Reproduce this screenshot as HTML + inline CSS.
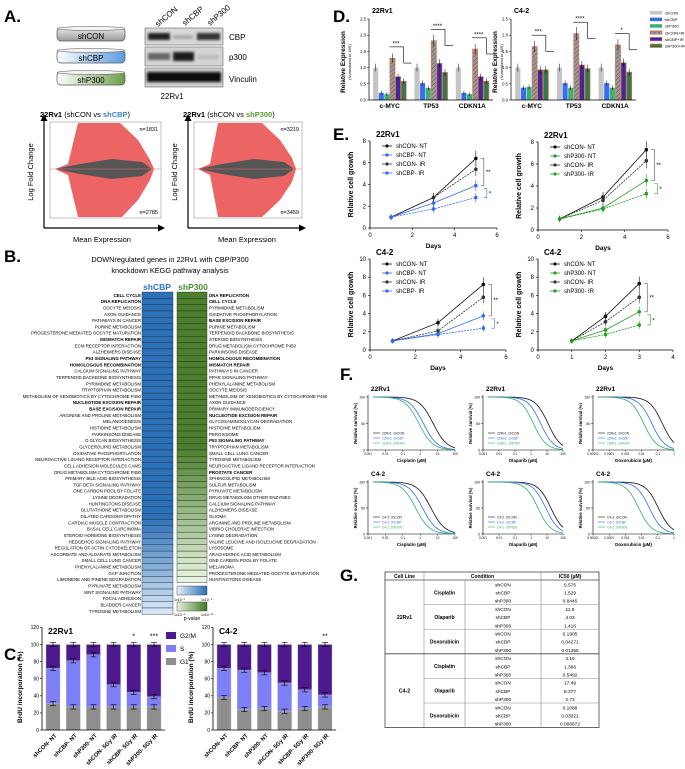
<!DOCTYPE html>
<html><head><meta charset="utf-8"><style>
html,body{margin:0;padding:0;background:#fff;}
svg{display:block;font-family:"Liberation Sans",Arial,sans-serif;}
</style></head><body>
<svg id="fig" width="685" height="769" viewBox="0 0 685 769" xmlns="http://www.w3.org/2000/svg">
<defs>
<linearGradient id="gCon" x1="0" y1="0" x2="0" y2="1"><stop offset="0" stop-color="#e8e8e8"/><stop offset="1" stop-color="#9a9a9a"/></linearGradient>
<linearGradient id="gCbp" x1="0" y1="0" x2="1" y2="0"><stop offset="0" stop-color="#fff"/><stop offset="1" stop-color="#5b9be0"/></linearGradient>
<linearGradient id="gP3" x1="0" y1="0" x2="1" y2="0"><stop offset="0" stop-color="#fff"/><stop offset="1" stop-color="#6ba04a"/></linearGradient>
<linearGradient id="legB" x1="0" y1="0" x2="1" y2="0"><stop offset="0" stop-color="#e3eef9"/><stop offset="1" stop-color="#2c6fb8"/></linearGradient>
<linearGradient id="legG" x1="0" y1="0" x2="1" y2="0"><stop offset="0" stop-color="#e8f1e0"/><stop offset="1" stop-color="#3f7a26"/></linearGradient>
<pattern id="hatch" width="3" height="3" patternUnits="userSpaceOnUse" patternTransform="rotate(45)"><rect width="3" height="3" fill="#9a9a9a"/><line x1="0" y1="0" x2="0" y2="3" stroke="#555" stroke-width="1"/></pattern>
<filter id="blur"><feGaussianBlur stdDeviation="1.4"/></filter>
</defs>

<text x="4" y="22" font-size="17" font-weight="bold">A.</text>
<text x="4" y="262" font-size="17" font-weight="bold">B.</text>
<text x="4" y="660" font-size="17" font-weight="bold">C.</text>
<text x="333" y="22" font-size="17" font-weight="bold">D.</text>
<text x="333" y="140" font-size="17" font-weight="bold">E.</text>
<text x="340" y="380" font-size="17" font-weight="bold">F.</text>
<text x="340" y="581" font-size="17" font-weight="bold">G.</text>

<g>
<rect x="57" y="28" width="68" height="13" rx="4" fill="url(#gCon)" stroke="#555" stroke-width="0.7"/>
<ellipse cx="91" cy="28.5" rx="34" ry="2" fill="#f2f2f2" stroke="#555" stroke-width="0.5"/>
<text x="91" y="39" font-size="8" text-anchor="middle">shCON</text></g>
<g>
<rect x="57" y="50" width="68" height="13" rx="4" fill="url(#gCbp)" stroke="#555" stroke-width="0.7"/>
<ellipse cx="91" cy="50.5" rx="34" ry="2" fill="#f2f2f2" stroke="#555" stroke-width="0.5"/>
<text x="91" y="61" font-size="8" text-anchor="middle">shCBP</text></g>
<g>
<rect x="57" y="72" width="68" height="13" rx="4" fill="url(#gP3)" stroke="#555" stroke-width="0.7"/>
<ellipse cx="91" cy="72.5" rx="34" ry="2" fill="#f2f2f2" stroke="#555" stroke-width="0.5"/>
<text x="91" y="83" font-size="8" text-anchor="middle">shP300</text></g>

<g>
<rect x="145" y="28" width="78" height="17" fill="#d8d8d8" stroke="#666" stroke-width="0.6"/>
<rect x="145" y="47" width="78" height="19" fill="#d4d4d4" stroke="#666" stroke-width="0.6"/>
<rect x="145" y="68" width="78" height="19" fill="#d0d0d0" stroke="#666" stroke-width="0.6"/>
<g filter="url(#blur)">
<rect x="148" y="33" width="22" height="7" fill="#222"/><rect x="173" y="35" width="20" height="4" fill="#aaa"/><rect x="197" y="33" width="23" height="7" fill="#333"/>
<rect x="148" y="53" width="22" height="7" fill="#666"/><rect x="173" y="52" width="21" height="9" fill="#1a1a1a"/><rect x="197" y="55" width="22" height="4" fill="#bbb"/>
<rect x="147" y="72" width="74" height="10" fill="#111"/>
</g></g>
<text x="229" y="40" font-size="8">CBP</text>
<text x="229" y="60" font-size="8">p300</text>
<text x="229" y="82" font-size="8">Vinculin</text>
<text x="172" y="99" font-size="8" text-anchor="middle">22Rv1</text>
<text transform="translate(158,27) rotate(-40)" font-size="8">shCON</text>
<text transform="translate(185,26) rotate(-40)" font-size="8">shCBP</text>
<text transform="translate(210,26) rotate(-40)" font-size="8">shP300</text>

<g>
<text x="40" y="117" font-size="7.5"><tspan font-weight="bold">22Rv1</tspan> (shCON vs <tspan font-weight="bold" fill="#3a86c8">shCBP</tspan>)</text>
<rect x="50" y="122" width="111" height="96" fill="#fff" stroke="#999" stroke-width="0.6"/>
<polygon points="55,169 68,164 78,123 120,123 138,140 150,160 154,169 150,180 138,200 122,217 78,217 68,175" fill="#e63030" opacity="0.75"/>
<polygon points="55,169 80,164 112,159 142,162 152,169 142,176 112,179 80,174" fill="#555"/>
<line x1="50" y1="169" x2="161" y2="169" stroke="#f07070" stroke-width="0.6"/>
<text x="158" y="131" font-size="5.5" text-anchor="end">n=1831</text>
<text x="158" y="214" font-size="5.5" text-anchor="end">n=2785</text>
<line x1="44" y1="228" x2="44" y2="120" stroke="#000" stroke-width="1.2"/><polygon points="40.5,121 47.5,121 44,114" fill="#000"/>
<line x1="44" y1="228" x2="159" y2="228" stroke="#000" stroke-width="1.2"/><polygon points="158,224.5 158,231.5 165,228" fill="#000"/>
<text transform="translate(33,172) rotate(-90)" font-size="7.5" text-anchor="middle">Log Fold Change</text>
<text x="102" y="242" font-size="7.5" text-anchor="middle">Mean Expression</text>
</g>
<g>
<text x="183" y="117" font-size="7.5"><tspan font-weight="bold">22Rv1</tspan> (shCON vs <tspan font-weight="bold" fill="#5a9a34">shP300</tspan>)</text>
<rect x="194" y="122" width="108" height="96" fill="#fff" stroke="#999" stroke-width="0.6"/>
<polygon points="198,169 210,164 218,123 262,123 280,140 292,158 296,169 292,182 280,200 262,217 218,217 210,175" fill="#e63030" opacity="0.75"/>
<polygon points="198,169 222,164 254,159 284,162 294,169 284,176 254,179 222,174" fill="#555"/>
<line x1="194" y1="169" x2="302" y2="169" stroke="#f07070" stroke-width="0.6"/>
<text x="299" y="131" font-size="5.5" text-anchor="end">n=3219</text>
<text x="299" y="214" font-size="5.5" text-anchor="end">n=3459</text>
<line x1="188" y1="228" x2="188" y2="120" stroke="#000" stroke-width="1.2"/><polygon points="184.5,121 191.5,121 188,114" fill="#000"/>
<line x1="188" y1="228" x2="300" y2="228" stroke="#000" stroke-width="1.2"/><polygon points="299,224.5 299,231.5 306,228" fill="#000"/>
<text transform="translate(177,172) rotate(-90)" font-size="7.5" text-anchor="middle">Log Fold Change</text>
<text x="247" y="242" font-size="7.5" text-anchor="middle">Mean Expression</text>
</g>

<text x="170" y="262" font-size="7.3" text-anchor="middle">DOWNregulated genes in 22Rv1 with CBP/P300</text>
<text x="170" y="273" font-size="7.3" text-anchor="middle">knockdown KEGG pathway analysis</text>
<text x="157" y="290" font-size="8.5" font-weight="bold" fill="#2f74c0" text-anchor="middle">shCBP</text>
<text x="193" y="290" font-size="8.5" font-weight="bold" fill="#4a8a2e" text-anchor="middle">shP300</text>
<g id="kegg"></g>
<g>
<rect x="177" y="586" width="30" height="9" fill="url(#legB)" stroke="#333" stroke-width="0.4"/>
<text x="174" y="601" font-size="3.6">1x10⁻²</text><text x="201" y="601" font-size="3.6">1x10⁻⁹</text>
<rect x="177" y="602" width="30" height="9" fill="url(#legG)" stroke="#333" stroke-width="0.4"/>
<text x="174" y="616" font-size="3.6">1x10⁻²</text><text x="201" y="616" font-size="3.6">1x10⁻¹⁰</text>
<text x="192" y="620" font-size="5" text-anchor="middle">p-value</text>
</g>

<g id="dyn"></g>
</svg>
<script>
const NS='http://www.w3.org/2000/svg';
const svg=document.getElementById('dyn');

const keggLeft=["CELL CYCLE","DNA REPLICATION","OOCYTE MEIOSIS","AXON GUIDANCE","PATHWAYS IN CANCER","PURINE METABOLISM","PROGESTERONE MEDIATED OOCYTE MATURATION","MISMATCH REPAIR","ECM RECEPTOR INTERACTION","ALZHEIMERS DISEASE","P53 SIGNALING PATHWAY","HOMOLOGOUS RECOMBINATION","CALCIUM SIGNALING PATHWAY","TERPENOID BACKBONE BIOSYNTHESIS","PYRIMIDINE METABOLISM","TRYPTOPHAN METABOLISM","METABOLISM OF XENOBIOTICS BY CYTOCHROME P450","NUCLEOTIDE EXCISION REPAIR","BASE EXCISION REPAIR","ARGININE AND PROLINE METABOLISM","MELANOGENESIS","HISTIDINE METABOLISM","PARKINSONS DISEASE","O GLYCAN BIOSYNTHESIS","GLYCEROLIPID METABOLISM","OXIDATIVE PHOSPHORYLATION","NEUROACTIVE LIGAND RECEPTOR INTERACTION","CELL ADHESION MOLECULES CAMS","DRUG METABOLISM CYTOCHROME P450","PRIMARY BILE ACID BIOSYNTHESIS","TGF BETA SIGNALING PATHWAY","ONE CARBON POOL BY FOLATE","LYSINE DEGRADATION","HUNTINGTONS DISEASE","GLUTATHIONE METABOLISM","DILATED CARDIOMYOPATHY","CARDIAC MUSCLE CONTRACTION","BASAL CELL CARCINOMA","STEROID HORMONE BIOSYNTHESIS","HEDGEHOG SIGNALING PATHWAY","REGULATION OF ACTIN CYTOSKELETON","ASCORBATE AND ALDARATE METABOLISM","SMALL CELL LUNG CANCER","PHENYLALANINE METABOLISM","GAP JUNCTION","LIMONENE AND PINENE DEGRADATION","PYRUVATE METABOLISM","WNT SIGNALING PATHWAY","FOCAL ADHESION","BLADDER CANCER","TYROSINE METABOLISM"];
const keggRight=["DNA REPLICATION","CELL CYCLE","PYRIMIDINE METABOLISM","OXIDATIVE PHOSPHORYLATION","BASE EXCISION REPAIR","PURINE METABOLISM","TERPENOID BACKBONE BIOSYNTHESIS","STEROID BIOSYNTHESIS","DRUG METABOLISM CYTOCHROME P450","PARKINSONS DISEASE","HOMOLOGOUS RECOMBINATION","MISMATCH REPAIR","PATHWAYS IN CANCER","PPAR SIGNALING PATHWAY","PHENYLALANINE METABOLISM","OOCYTE MEIOSIS","METABOLISM OF XENOBIOTICS BY CYTOCHROME P450","AXON GUIDANCE","PRIMARY IMMUNODEFICIENCY","NUCLEOTIDE EXCISION REPAIR","GLYCOSAMINOGLYCAN DEGRADATION","HISTIDINE METABOLISM","PEROXISOME","P53 SIGNALING PATHWAY","TRYPTOPHAN METABOLISM","SMALL CELL LUNG CANCER","TYROSINE METABOLISM","NEUROACTIVE LIGAND RECEPTOR INTERACTION","PROSTATE CANCER","SPHINGOLIPID METABOLISM","SULFUR METABOLISM","PYRUVATE METABOLISM","DRUG METABOLISM OTHER ENZYMES","CALCIUM SIGNALING PATHWAY","ALZHEIMERS DISEASE","GLIOMA","ARGININE AND PROLINE METABOLISM","VIBRIO CHOLERAE INFECTION","LYSINE DEGRADATION","VALINE LEUCINE AND ISOLEUCINE DEGRADATION","LYSOSOME","ARACHIDONIC ACID METABOLISM","ONE CARBON POOL BY FOLATE","MELANOMA","PROGESTERONE MEDIATED OOCYTE MATURATION","HUNTINGTONS DISEASE"];
const keggBold=["CELL CYCLE","DNA REPLICATION","MISMATCH REPAIR","P53 SIGNALING PATHWAY","HOMOLOGOUS RECOMBINATION","NUCLEOTIDE EXCISION REPAIR","BASE EXCISION REPAIR","PROSTATE CANCER"];

function lerp(a,b,t){return Math.round(a+(b-a)*t);}
function mix(c1,c2,t){return 'rgb('+lerp(c1[0],c2[0],t)+','+lerp(c1[1],c2[1],t)+','+lerp(c1[2],c2[2],t)+')';}
const kg=document.getElementById('kegg');
const rowH=6.32, row0=292;
keggLeft.forEach((nm,i)=>{
  const t=i<35?0:(i-35)/(keggLeft.length-36);
  const r=document.createElementNS(NS,'rect');
  r.setAttribute('x',142);r.setAttribute('y',row0+i*rowH);r.setAttribute('width',31);r.setAttribute('height',rowH);
  r.setAttribute('fill',mix([44,112,184],[222,235,248],t*0.95));r.setAttribute('stroke','#1a2a3a');r.setAttribute('stroke-width','0.4');
  
  
  kg.appendChild(r);
  const tx=document.createElementNS(NS,'text');
  tx.setAttribute('x',141);tx.setAttribute('y',row0+i*rowH+4.8);tx.setAttribute('font-size','4.4');tx.setAttribute('text-anchor','end');
  if(keggBold.includes(nm))tx.setAttribute('font-weight','bold');
  tx.textContent=nm;
  
  
  kg.appendChild(tx);
});
keggRight.forEach((nm,i)=>{
  const t=i<24?0:(i-24)/(keggRight.length-25);
  const r=document.createElementNS(NS,'rect');
  r.setAttribute('x',177);r.setAttribute('y',row0+i*rowH);r.setAttribute('width',30);r.setAttribute('height',rowH);
  r.setAttribute('fill',mix([76,128,48],[232,242,224],t));r.setAttribute('stroke','#1f2a18');r.setAttribute('stroke-width','0.4');
  
  
  kg.appendChild(r);
  const tx=document.createElementNS(NS,'text');
  tx.setAttribute('x',209);tx.setAttribute('y',row0+i*rowH+4.8);tx.setAttribute('font-size','4.4');
  if(keggBold.includes(nm))tx.setAttribute('font-weight','bold');
  tx.textContent=nm;
  
  
  kg.appendChild(tx);
});

function el(tag,attrs,name){
  const e=document.createElementNS(NS,tag);
  for(const k in attrs)e.setAttribute(k,attrs[k]);
  
  
  svg.appendChild(e);return e;
}
function txt(x,y,s,size,name,extra){
  const e=el('text',Object.assign({x:x,y:y,'font-size':size},extra||{}),name);
  e.textContent=s;return e;
}
function line(x1,y1,x2,y2,stroke,w,name,extra){
  return el('line',Object.assign({x1:x1,y1:y1,x2:x2,y2:y2,stroke:stroke,'stroke-width':w},extra||{}),name);
}

// Panel C
const cCats=["shCON- NT","shCBP- NT","shP300- NT","shCON- 5Gy IR","shCBP- 5Gy IR","shP300- 5Gy IR"];
const c22G1=[31,27,27,27,27,27];
const c22S=[41,54,61,26,17,12];
const c22G2M=[28,19,12,47,56,61];
const c42G1=[38,24,25,22,25,27];
const c42S=[34,46,42,33,22,14];
const c42G2M=[28,30,33,45,53,59];
const c22Stars=["","","","","*","***"];
const c42Stars=["","","","","","**"];
const cTicks=[0,20,40,60,80,100,120];

function stackChart(ax,y0,title,G1,S,G2,stars,key){
  const ys=v=>y0-v*0.855, step=20.2;
  txt(ax+6,634,title,8.5,key+'-title',{'font-weight':'bold'});
  cTicks.forEach(t=>{line(ax-2,ys(t),ax,ys(t),'#000',0.6,key+'-ytick');txt(ax-3,ys(t)+1.8,t,5,key+'-ytick-label',{'text-anchor':'end'});});
  cCats.forEach((c,i)=>{
    const cx=ax+11+i*step, w=14;
    const a=G1[i], b=a+S[i], top=b+G2[i];
    el('rect',{x:cx-w/2,y:ys(a),width:w,height:ys(0)-ys(a),fill:'#8e8e8e',stroke:'#bbb','stroke-width':0.4},key+'-bar-g1');
    el('rect',{x:cx-w/2,y:ys(b),width:w,height:ys(a)-ys(b),fill:'#7d7ff7',stroke:'#bbb','stroke-width':0.4},key+'-bar-s');
    el('rect',{x:cx-w/2,y:ys(top),width:w,height:ys(b)-ys(top),fill:'#4c1a8e',stroke:'#bbb','stroke-width':0.4},key+'-bar-g2m');
    [a,b,top].forEach(v=>{line(cx,ys(v+2.5),cx,ys(v-2.5),'#000',0.6,key+'-errorbar');line(cx-3,ys(v+2.5),cx+3,ys(v+2.5),'#000',0.6,key+'-errorcap');line(cx-3,ys(v-2.5),cx+3,ys(v-2.5),'#000',0.6,key+'-errorcap');});
    if(stars[i])txt(cx,ys(107),stars[i],7,key+'-significance',{'text-anchor':'middle'});
    txt(0,0,c,5.8,key+'-xlabel',{'font-weight':'bold','text-anchor':'end',transform:'translate('+(cx+4)+',736) rotate(-45)'});
  });
  line(ax,ys(0),ax,ys(120),'#000',0.8,key+'-yaxis');
  line(ax,ys(0),ax+6*step+2,ys(0),'#000',0.8,key+'-xaxis');
  txt(0,0,'BrdU incorporation (%)',6.5,key+'-ylabel',{'font-weight':'bold','text-anchor':'middle',transform:'translate('+(ax-20)+','+ys(50)+') rotate(-90)'});
}
stackChart(42,730,'22Rv1',c22G1,c22S,c22G2M,c22Stars,'brdu-22rv1');
stackChart(213,730,'C4-2',c42G1,c42S,c42G2M,c42Stars,'brdu-c42');
[['G2/M','#4c1a8e',635],['S','#7d7ff7',648],['G1','#8e8e8e',661]].forEach(l=>{
  el('rect',{x:166,y:l[2]-3,width:10,height:7,fill:l[1]},'brdu-legend-swatch');
  txt(180,l[2]+3,l[0],6.5,'brdu-legend-label');
});

// Panel D
const dGenes=["c-MYC","TP53","CDKN1A"];
const dSeries=["shCON","shCBP","shP300","shCON+IR","shCBP+IR","shP300+IR"];
const d22=[[1,0.22,0.18,1.29,0.72,0.58],[1,0.52,0.37,1.83,1.13,0.85],[1,0.22,0.18,1.57,0.72,0.58]];
const d42=[[1,0.38,0.40,1.65,0.93,0.93],[1,0.52,0.38,2.05,1.08,0.97],[1,0.52,0.38,1.70,1.15,0.86]];
const dStars22=["***","****","****"], dStars42=["***","****","*"];
const dTicks=[0,0.5,1.0,1.5,2.0,2.5];
const dFills=['#c4c4c4','#3b6cf2','#39b072','url(#hatch)','#3a2c9c','#2f7a4f'];
const dStroke=['none','none','none','#f0704a','#f0704a','#f0704a'];

function barD(ax,ax2,title,data,stars,key,labOff){
  const ys=v=>100-v/2.5*81, band=(ax2-ax)/3, bw=5.1;
  txt(ax+3,13,title,7,key+'-title',{'font-weight':'bold'});
  dTicks.forEach(t=>{line(ax-2,ys(t),ax,ys(t),'#000',0.5,key+'-ytick');txt(ax-3,ys(t)+1.5,t.toFixed(1),4.2,key+'-ytick-label',{'text-anchor':'end'});});
  data.forEach((vals,g)=>{
    const gc=ax+band*(g+0.5);
    vals.forEach((v,i)=>{
      const x=gc+(i-2.5)*5.6-bw/2;
      el('rect',{x:x,y:ys(v),width:bw,height:ys(0)-ys(v),fill:dFills[i],stroke:dStroke[i],'stroke-width':0.7},key+'-bar');
      line(x+bw/2,ys(v*1.08+0.04),x+bw/2,ys(v*0.92-0.04),'#000',0.5,key+'-errorbar');
    });
    const xa=gc+0.5*5.6, xb=gc+2.5*5.6, yb=ys(vals[3]+0.35);
    line(xa-3,yb,xb,yb,'#000',0.6,key+'-bracket');
    line(xb,yb,xb,ys(vals[3]-0.15),'#000',0.6,key+'-bracket');
    line(xb,ys(vals[3]-0.15),xb+8,ys(vals[3]-0.15),'#000',0.6,key+'-bracket');
    txt((xa+xb)/2-2,yb-1.5,stars[g],6,key+'-significance',{'text-anchor':'middle'});
    txt(gc,108,dGenes[g],6.5,key+'-xlabel',{'font-weight':'bold','text-anchor':'middle'});
  });
  line(ax,ys(0),ax,ys(2.5),'#000',0.7,key+'-yaxis');
  line(ax,ys(0),ax2,ys(0),'#000',0.7,key+'-xaxis');
  txt(0,0,'Relative Expression',6.5,key+'-ylabel',{'font-weight':'bold','text-anchor':'middle',transform:'translate('+(ax-labOff)+',62) rotate(-90)'});
  txt(0,0,'(Normalized to 18S)',4,key+'-ylabel-sub',{'text-anchor':'middle',transform:'translate('+(ax-labOff+6)+',62) rotate(-90)'});
}
barD(369,493,'22Rv1',d22,dStars22,'qpcr-22rv1',24);
barD(511,636,'C4-2',d42,dStars42,'qpcr-c42',14);
dSeries.forEach((s,i)=>{
  el('rect',{x:650,y:11+i*6.6,width:12,height:3.5,fill:dFills[i],stroke:dStroke[i],'stroke-width':0.6},'qpcr-legend-swatch');
  txt(665,14.5+i*6.6,s,4,'qpcr-legend-label');
});

// Panel E
const eNames1=["shCON- NT","shCBP- NT","shCON- IR","shCBP- IR"];
const eNames2=["shCON- NT","shP300- NT","shCON- IR","shP300- IR"];
const eDays1=[1,3,5], eDays2=[1,2,3];
const eTL=[[1,2.8,6.4],[1,2.3,3.9],[1,2.8,5.4],[1,1.75,2.8]];
const eTR=[[1,3.0,7.3],[1,2.0,4.5],[1,2.7,6.3],[1,1.9,3.3]];
const eBL=[[1,3.0,7.2],[1,1.8,3.75],[1,2.1,5.8],[1,1.7,2.4]];
const eBR=[[1,3.7,7.3],[1,2.2,4.2],[1,3.1,5.8],[1,1.7,2.75]];

function growth(ax,ax2,yTop,yBot,yMax,xMax,days,series,names,col,title,key){
  const xs=d=>ax+d/xMax*(ax2-ax), ys=v=>yBot-v/yMax*(yBot-yTop);
  txt(ax+6,yTop-4,title,8,key+'-title',{'font-weight':'bold'});
  for(let t=0;t<=yMax;t+=2){line(ax-2,ys(t),ax,ys(t),'#000',0.6,key+'-ytick');txt(ax-4,ys(t)+2,t,6,key+'-ytick-label',{'text-anchor':'end'});}
  const xstep=xMax>4?2:1;
  for(let t=0;t<=xMax;t+=xstep){line(xs(t),yBot,xs(t),yBot+2,'#000',0.6,key+'-xtick');txt(xs(t),yBot+9,t,6,key+'-xtick-label',{'text-anchor':'middle'});}
  line(ax,yBot,ax,ys(yMax),'#000',0.8,key+'-yaxis');
  line(ax,yBot,ax2,yBot,'#000',0.8,key+'-xaxis');
  txt((ax+ax2)/2,yBot+20,'Days',6.5,key+'-xlabel',{'font-weight':'bold','text-anchor':'middle'});
  txt(0,0,'Relative cell growth',7,key+'-ylabel',{'font-weight':'bold','text-anchor':'middle',transform:'translate('+(ax-17)+','+((yTop+yBot)/2)+') rotate(-90)'});
  const cols=['#111',col,'#333',col];
  series.forEach((vals,s)=>{
    const pts=vals.map((v,i)=>xs(days[i])+','+ys(v)).join(' ');
    el('polyline',{points:pts,fill:'none',stroke:cols[s],'stroke-width':0.8,'stroke-dasharray':s>=2?'2,1':'none'},key+'-line');
    vals.forEach((v,i)=>{
      line(xs(days[i]),ys(v*1.08+0.2),xs(days[i]),ys(v*0.92-0.2),cols[s],0.6,key+'-errorbar');
      el('circle',{cx:xs(days[i]),cy:ys(v),r:1.8,fill:cols[s]},key+'-point');
    });
    const ly=yTop+5+s*9;
    line(ax+12,ly,ax+22,ly,cols[s],0.8,key+'-legend-line');
    el('circle',{cx:ax+17,cy:ly,r:1.6,fill:cols[s]},key+'-legend-marker');
    txt(ax+26,ly+2.2,names[s],6,key+'-legend-label');
  });
  const xe=xs(days[2])+8;
  const a=ys(series[0][2]), b=ys(series[1][2]), c=ys(series[3][2]);
  el('polyline',{points:(xe-3)+','+a+' '+xe+','+a+' '+xe+','+b+' '+(xe-3)+','+b,fill:'none',stroke:'#555','stroke-width':0.6},key+'-bracket');
  txt(xe+2,(a+b)/2+2,'**',6,key+'-significance');
  el('polyline',{points:(xe)+','+(b+3)+' '+(xe+3)+','+(b+3)+' '+(xe+3)+','+c+' '+xe+','+c,fill:'none',stroke:col,'stroke-width':0.6},key+'-bracket');
  txt(xe+5,(b+c)/2+4,'*',6,key+'-significance');
}
growth(370,497,141,228,8,6,eDays1,eTL,eNames1,'#2f6cf5','22Rv1','growth-22rv1-cbp');
growth(538,668,142,230,8,6,eDays1,eTR,eNames2,'#22a022','22Rv1','growth-22rv1-p300');
growth(370,506,259,350,10,6,eDays1,eBL,eNames1,'#2f6cf5','C4-2','growth-c42-cbp');
growth(538,673,259,350,10,4,eDays2,eBR,eNames2,'#22a022','C4-2','growth-c42-p300');

// Panel F / G
const fDrugs=["Cisplatin","Olaparib","Doxorubicin"];
const fConds=["shCON","shCBP","shP300"];
const ic22=[[5.576,1.529,0.8445],[11.6,4.03,1.416],[0.1905,0.04271,0.01355]];
const ic42=[[4.16,1.366,0.5492],[17.49,8.377,2.73],[0.1088,0.03021,0.006672]];
const fLogMin=[-3,-3,-5], fLogMax=[2,2,0];
const fHill=1.1;
const fCols=['#111','#2f6cf5','#2fb070'];
const fTickLabels={'-5':'0.00001','-4':'0.0001','-3':'0.001','-2':'0.01','-1':'0.1','0':'1','1':'10','2':'100'};

function dose(ax,ax2,yTop,yBot,di,ics,cell,key){
  const lmin=fLogMin[di], lmax=fLogMax[di];
  const xs=l=>ax+(l-lmin)/(lmax-lmin)*(ax2-ax), ys=v=>yBot-v/100*(yBot-yTop);
  txt(ax+3,yTop-6,cell,6.5,key+'-title',{'font-weight':'bold'});
  [0,50,100].forEach(t=>{line(ax-2,ys(t),ax,ys(t),'#000',0.5,key+'-ytick');txt(ax-3,ys(t)+1.3,t,3.5,key+'-ytick-label',{'text-anchor':'end'});});
  for(let l=lmin;l<=lmax;l++){line(xs(l),yBot,xs(l),yBot+1.5,'#000',0.5,key+'-xtick');txt(xs(l),yBot+5,fTickLabels[String(l)],3.2,key+'-xtick-label',{'text-anchor':'middle'});}
  line(ax,yBot,ax,yTop-2,'#000',0.6,key+'-yaxis');
  line(ax,yBot,ax2,yBot,'#000',0.6,key+'-xaxis');
  txt((ax+ax2)/2,yBot+12,fDrugs[di]+' (µM)',4.5,key+'-xlabel',{'font-weight':'bold','text-anchor':'middle'});
  txt(0,0,'Relative survival (%)',4.2,key+'-ylabel',{'font-weight':'bold','text-anchor':'middle',transform:'translate('+(ax-11)+','+((yTop+yBot)/2)+') rotate(-90)'});
  ics.forEach((ic,s)=>{
    let p='';
    for(let k=0;k<=60;k++){const l=lmin+0.3+(lmax-lmin-0.3)*k/60;const v=100/(1+Math.pow(Math.pow(10,l)/ic,fHill));p+=(k?'L':'M')+xs(l).toFixed(1)+','+ys(v).toFixed(1);}
    el('path',{d:p,fill:'none',stroke:fCols[s],'stroke-width':0.8},key+'-curve');
    const ly=yBot-17+s*5;
    line(ax+5,ly,ax+12,ly,fCols[s],0.6,key+'-legend-line');
    txt(ax+14,ly+1.3,cell+': '+fConds[s],3.3,key+'-legend-label',{fill:fCols[s]});
  });
}
const fx=[[368,455],[483,563],[593,674]];
fx.forEach((p,di)=>{
  dose(p[0],p[1],397,450,di,ic22[di],'22Rv1','dose-22rv1-'+di);
  dose(p[0],p[1],482,534,di,ic42[di],'C4-2','dose-c42-'+di);
});

const gx=[385,424,465,541,599], gTop=572, gHead=580, gRow=8.2;
el('rect',{x:gx[0],y:gTop,width:gx[4]-gx[0],height:gHead-gTop+18*gRow,fill:'none',stroke:'#444','stroke-width':0.8},'ic50-table-border');
line(gx[0],gHead,gx[4],gHead,'#444',0.8,'ic50-table-header-line');
txt((gx[0]+gx[1])/2,gTop+6.2,'Cell Line',5,'ic50-header-cell-line',{'font-weight':'bold','text-anchor':'middle'});
txt((gx[1]+gx[3])/2,gTop+6.2,'Condition',5,'ic50-header-condition',{'font-weight':'bold','text-anchor':'middle'});
txt((gx[3]+gx[4])/2,gTop+6.2,'IC50 (µM)',5,'ic50-header-value',{'font-weight':'bold','text-anchor':'middle'});
line(gx[1],gTop,gx[1],gHead+18*gRow,'#888',0.6,'ic50-col-line');
line(gx[2],gHead,gx[2],gHead+18*gRow,'#888',0.6,'ic50-col-line');
line(gx[3],gTop,gx[3],gHead+18*gRow,'#888',0.6,'ic50-col-line');
[['22Rv1',ic22],['C4-2',ic42]].forEach((c,ci)=>{
  const y0=gHead+ci*9*gRow;
  if(ci)line(gx[0],y0,gx[4],y0,'#444',0.8,'ic50-cellline-divider');
  txt((gx[0]+gx[1])/2,y0+4.5*gRow+2,c[0],5.2,'ic50-cell-line',{'font-weight':'bold','text-anchor':'middle'});
  c[1].forEach((vals,di)=>{
    const yd=y0+di*3*gRow;
    if(di)line(gx[1],yd,gx[4],yd,'#888',0.5,'ic50-drug-divider');
    txt((gx[1]+gx[2])/2,yd+1.5*gRow+2,fDrugs[di],5,'ic50-drug',{'font-weight':'bold','text-anchor':'middle'});
    vals.forEach((v,s)=>{
      txt((gx[2]+gx[3])/2,yd+s*gRow+6.3,fConds[s],4.8,'ic50-condition',{'text-anchor':'middle'});
      txt((gx[3]+gx[4])/2,yd+s*gRow+6.3,String(v),4.8,'ic50-value',{'text-anchor':'middle'});
    });
  });
});
</script>
</body></html>
